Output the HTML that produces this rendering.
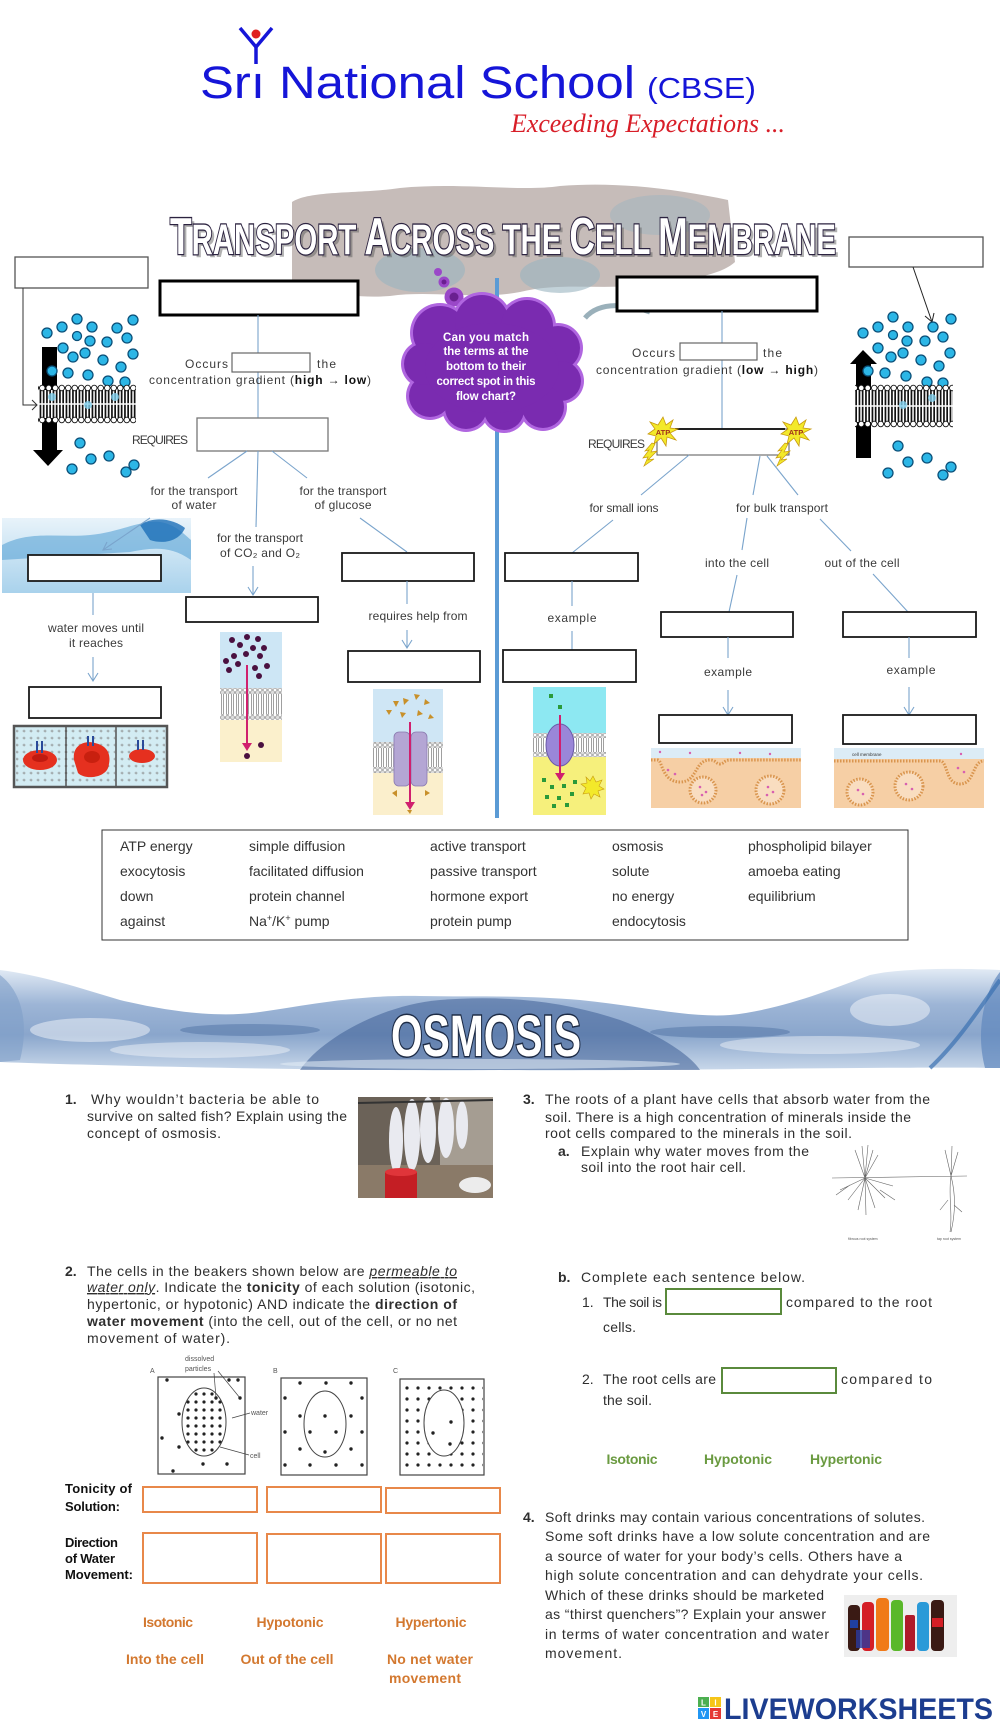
<!DOCTYPE html>
<html><head><meta charset="utf-8"><style>
html,body{margin:0;padding:0;background:#fff;}
svg{display:block;}
text{font-family:"Liberation Sans",sans-serif;}
.f{font-size:12px;fill:#3a3a3a;}
.q{font-size:14px;fill:#2e2e2e;}
.w{font-size:14px;fill:#333;}
.ln{stroke:#7aa4cc;stroke-width:1.1;fill:none;}
.bx{fill:#fff;stroke:#1a1a1a;stroke-width:1.8;}
.gb{fill:#fff;stroke:#666;stroke-width:1.2;}
.dot{fill:#2cb6e6;stroke:#0b4f78;stroke-width:1.3;}
.or{fill:none;stroke:#e8884a;stroke-width:2;}
.ot{font-size:14px;font-weight:bold;fill:#d3782f;}
.gt{font-size:14px;font-weight:bold;fill:#6a9a40;}
.bd{fill:#333;}
</style></head><body>
<svg width="1000" height="1728" viewBox="0 0 1000 1728" xmlns="http://www.w3.org/2000/svg">
<defs>
<pattern id="tails" width="6.5" height="4" patternUnits="userSpaceOnUse"><rect width="6.5" height="4" fill="#fff"/><rect x="0.6" width="1.7" height="4" fill="#111"/><rect x="3.8" width="1.7" height="4" fill="#111"/></pattern>
<pattern id="gtl" width="5" height="4" patternUnits="userSpaceOnUse"><rect width="5" height="4" fill="#fff"/><rect x="1" width="0.8" height="4" fill="#888"/><rect x="3.2" width="0.8" height="4" fill="#888"/></pattern>
<pattern id="hA" x="0" y="384" width="6.5" height="8" patternUnits="userSpaceOnUse"><circle cx="3.25" cy="4" r="2.8" fill="#fff" stroke="#111" stroke-width="0.9"/></pattern>
<pattern id="hB" x="0" y="416" width="6.5" height="8" patternUnits="userSpaceOnUse"><circle cx="3.25" cy="4" r="2.8" fill="#fff" stroke="#111" stroke-width="0.9"/></pattern>
<pattern id="hC" x="0" y="420" width="6.5" height="8" patternUnits="userSpaceOnUse"><circle cx="3.25" cy="4" r="2.8" fill="#fff" stroke="#111" stroke-width="0.9"/></pattern>
<pattern id="gh" width="5" height="5" patternUnits="userSpaceOnUse"><circle cx="2.5" cy="2.5" r="2" fill="#ddd" stroke="#777" stroke-width="0.6"/></pattern>
<pattern id="dC" x="402" y="1383" width="11" height="11" patternUnits="userSpaceOnUse"><circle cx="5" cy="5" r="1.6" fill="#222"/></pattern>
<pattern id="dA" x="184" y="1390" width="8" height="8" patternUnits="userSpaceOnUse"><circle cx="4" cy="4" r="1.6" fill="#222"/></pattern>
<pattern id="rbcd" width="7" height="7" patternUnits="userSpaceOnUse"><circle cx="3" cy="3" r="1" fill="none" stroke="#888" stroke-width="0.6"/></pattern>
<linearGradient id="wave" x1="0" y1="0" x2="0" y2="1">
<stop offset="0" stop-color="#e2ebf5"/><stop offset="0.35" stop-color="#9db5d6"/><stop offset="0.65" stop-color="#8aa6cc"/><stop offset="1" stop-color="#c9d8ea"/></linearGradient>
<linearGradient id="splash" x1="0" y1="0" x2="0" y2="1"><stop offset="0" stop-color="#e8f3fa"/><stop offset="1" stop-color="#a9d2ec"/></linearGradient>
</defs>

<!-- HEADER -->
<path d="M240,28 L256,47 L272,28" stroke="#1515d8" stroke-width="3.5" fill="none"/>
<line x1="256" y1="46" x2="256" y2="64" stroke="#1515d8" stroke-width="3.5"/>
<circle cx="256" cy="34" r="4.5" fill="#e02020"/>
<text x="200" y="98" font-size="45" fill="#1515d8" textLength="435" lengthAdjust="spacingAndGlyphs">Srı National School</text>
<text x="647" y="98" font-size="29" fill="#1515d8" textLength="109" lengthAdjust="spacingAndGlyphs">(CBSE)</text>
<text x="511" y="132" font-size="26" font-style="italic" fill="#d81e28" style="font-family:'Liberation Serif',serif" textLength="274" lengthAdjust="spacingAndGlyphs">Exceeding Expectations ...</text>

<!-- TITLE BLOB -->
<path d="M292,202 C310,190 360,194 400,188 C460,182 520,192 560,186 C620,181 680,190 728,200 L735,262 C720,276 680,282 640,285 C600,290 560,282 520,292 C480,300 430,290 390,296 C350,299 310,290 292,280 Z" fill="#a08f8a" opacity="0.6"/>
<ellipse cx="420" cy="270" rx="45" ry="22" fill="#9ab4c0" opacity="0.6"/>
<ellipse cx="560" cy="275" rx="40" ry="18" fill="#9ab4c0" opacity="0.6"/>
<ellipse cx="660" cy="215" rx="50" ry="20" fill="#9ab4c0" opacity="0.45"/>
<path d="M585,318 C600,300 630,305 650,312" stroke="#9ab0ba" stroke-width="5" fill="none"/>
<text x="173" y="257" font-size="52" font-weight="bold" fill="#555" opacity="0.45" textLength="666" lengthAdjust="spacingAndGlyphs">T<tspan font-size="43">RANSPORT </tspan>A<tspan font-size="43">CROSS THE </tspan>C<tspan font-size="43">ELL </tspan>M<tspan font-size="43">EMBRANE</tspan></text>
<text x="170" y="254" font-size="52" font-weight="bold" fill="#fff" stroke="#2c2340" stroke-width="2.6" paint-order="stroke" textLength="666" lengthAdjust="spacingAndGlyphs">T<tspan font-size="43">RANSPORT </tspan>A<tspan font-size="43">CROSS THE </tspan>C<tspan font-size="43">ELL </tspan>M<tspan font-size="43">EMBRANE</tspan></text>

<!-- CENTER LINE -->
<line x1="497" y1="278" x2="497" y2="818" stroke="#5b9bd5" stroke-width="4"/>

<!-- CLOUD -->
<circle cx="438" cy="272" r="4" fill="#9a48c8"/>
<circle cx="444" cy="282" r="5.5" fill="#9a48c8"/><circle cx="444" cy="282" r="2.5" fill="#6a2090"/>
<circle cx="454" cy="297" r="9.5" fill="#9a48c8"/><circle cx="454" cy="297" r="4.5" fill="#6a2090"/>
<g fill="#b066e0">
<circle cx="440" cy="333" r="30"/><circle cx="482" cy="322" r="30"/><circle cx="527" cy="326" r="29"/><circle cx="558" cy="348" r="25"/><circle cx="561" cy="381" r="23"/><circle cx="543" cy="407" r="24"/><circle cx="504" cy="410" r="23"/><circle cx="466" cy="408" r="24"/><circle cx="430" cy="396" r="24"/><circle cx="425" cy="364" r="24"/><ellipse cx="492" cy="368" rx="70" ry="48"/>
</g>
<g fill="#7a2bb0">
<circle cx="440" cy="333" r="27"/><circle cx="482" cy="322" r="27"/><circle cx="527" cy="326" r="26"/><circle cx="558" cy="348" r="22"/><circle cx="561" cy="381" r="20"/><circle cx="543" cy="407" r="21"/><circle cx="504" cy="410" r="20"/><circle cx="466" cy="408" r="21"/><circle cx="430" cy="396" r="21"/><circle cx="425" cy="364" r="21"/><ellipse cx="492" cy="368" rx="67" ry="45"/>
</g>
<g font-size="11.5" font-weight="bold" fill="#fff" text-anchor="middle">
<text x="486" y="341" textLength="86">Can you match</text>
<text x="486" y="355" textLength="85">the terms at the</text>
<text x="486" y="370" textLength="80">bottom to their</text>
<text x="486" y="385" textLength="99">correct spot in this</text>
<text x="486" y="400" textLength="60">flow chart?</text>
</g>

<!-- LEFT DIFFUSION IMAGE -->
<rect x="15" y="257" width="133" height="31" fill="#fff" stroke="#555" stroke-width="1.3"/>
<polyline points="23,288 23,405 37,405" fill="none" stroke="#333" stroke-width="1"/>
<polyline points="32,400 37,405 32,410" fill="none" stroke="#333" stroke-width="1"/>
<rect x="42" y="347" width="15" height="105" fill="#000"/>
<polygon points="33,450 63,450 48,466" fill="#000"/>
<g class="dot">
<circle cx="47" cy="333" r="5"/><circle cx="62" cy="327" r="5"/><circle cx="77" cy="319" r="5"/><circle cx="92" cy="327" r="5"/><circle cx="117" cy="328" r="5"/><circle cx="133" cy="320" r="5"/><circle cx="77" cy="336" r="4.5"/><circle cx="90" cy="341" r="5"/><circle cx="107" cy="342" r="5"/><circle cx="127" cy="338" r="5"/><circle cx="63" cy="348" r="5"/><circle cx="73" cy="357" r="5"/><circle cx="85" cy="353" r="5"/><circle cx="103" cy="360" r="5"/><circle cx="133" cy="354" r="5"/><circle cx="52" cy="371" r="5"/><circle cx="68" cy="373" r="5"/><circle cx="88" cy="375" r="5"/><circle cx="108" cy="381" r="5"/><circle cx="121" cy="367" r="5"/><circle cx="125" cy="382" r="5"/>
<circle cx="80" cy="443" r="5"/><circle cx="91" cy="459" r="5"/><circle cx="109" cy="456" r="5"/><circle cx="72" cy="469" r="5"/><circle cx="126" cy="472" r="5"/><circle cx="134" cy="465" r="5"/>
</g>
<rect x="38" y="390" width="98" height="28" fill="url(#tails)"/>
<line x1="38" y1="404" x2="136" y2="404" stroke="#fff" stroke-width="1.5"/>
<rect x="38" y="384" width="98" height="8" fill="url(#hA)"/>
<rect x="38" y="416" width="98" height="8" fill="url(#hB)"/>
<circle cx="52" cy="397" r="4" fill="#7fd0ee" opacity="0.8"/><circle cx="88" cy="405" r="4" fill="#7fd0ee" opacity="0.8"/><circle cx="115" cy="397" r="4" fill="#7fd0ee" opacity="0.8"/>

<!-- LEFT FLOW -->
<rect x="160" y="281" width="198" height="34" fill="#fff" stroke="#000" stroke-width="3"/>
<line class="ln" x1="258" y1="315" x2="258" y2="418"/>
<text class="f" x="185" y="368" font-size="14" textLength="43">Occurs</text>
<rect x="232" y="353" width="78" height="19" class="gb"/>
<text class="f" x="317" y="368" font-size="14" textLength="19">the</text>
<text class="f" x="149" y="384" font-size="13.5" textLength="222">concentration gradient (<tspan font-weight="bold" fill="#111">high → low</tspan>)</text>
<text class="f" x="132" y="444" font-size="13.5" textLength="56">REQUIRES</text>
<rect x="197" y="418" width="131" height="33" fill="#fff" stroke="#777" stroke-width="1.3"/>
<line class="ln" x1="247" y1="451" x2="208" y2="478"/>
<line class="ln" x1="258" y1="451" x2="256" y2="527"/>
<line class="ln" x1="272" y1="451" x2="307" y2="478"/>
<g class="f" text-anchor="middle">
<text x="194" y="495" textLength="87">for the transport</text>
<text x="194" y="509" textLength="45">of water</text>
<text x="343" y="495" textLength="87">for the transport</text>
<text x="343" y="509" textLength="57">of glucose</text>
<text x="260" y="542" textLength="86">for the transport</text>
<text x="260" y="557" textLength="80">of CO₂ and O₂</text>
<text x="96" y="632" textLength="96">water moves until</text>
<text x="96" y="647" textLength="54">it reaches</text>
<text x="418" y="620" textLength="99">requires help from</text>
</g>
<!-- water splash -->
<rect x="2" y="518" width="189" height="75" fill="url(#splash)"/>
<path d="M2,545 C30,530 60,538 90,535 C120,532 140,520 160,522 C175,524 185,535 191,540 L191,560 C170,545 150,548 130,552 L2,560 Z" fill="#5aa3d6" opacity="0.6"/>
<path d="M140,525 C155,515 175,520 185,528 C180,540 165,545 150,540 Z" fill="#1d6fb8" opacity="0.8"/>
<line class="ln" x1="150" y1="518" x2="103" y2="550"/>
<polyline class="ln" points="112,549 103,550 107,542"/>
<rect class="bx" x="28" y="555" width="133" height="26"/>
<line class="ln" x1="93" y1="593" x2="93" y2="615"/>
<line class="ln" x1="93" y1="657" x2="93" y2="681"/>
<polyline class="ln" points="88,673 93,681 98,673"/>
<rect class="bx" x="29" y="687" width="132" height="31"/>
<!-- RBC -->
<rect x="14" y="726" width="153" height="61" fill="#d3ecf3" stroke="#555" stroke-width="2.5"/>
<rect x="16" y="728" width="149" height="57" fill="url(#rbcd)"/>
<line x1="66" y1="727" x2="66" y2="786" stroke="#555" stroke-width="1.5"/>
<line x1="116" y1="727" x2="116" y2="786" stroke="#555" stroke-width="1.5"/>
<ellipse cx="40" cy="760" rx="17" ry="10" fill="#e5301f"/><ellipse cx="40" cy="758" rx="8" ry="4" fill="#c01a10"/>
<path d="M74,760 C72,745 85,740 95,743 C108,746 112,755 108,768 C104,778 85,780 78,773 Z" fill="#e5301f"/>
<ellipse cx="92" cy="757" rx="8" ry="6" fill="#c8200f"/>
<ellipse cx="142" cy="756" rx="13" ry="7" fill="#e5301f"/>
<g stroke="#2a4a9a" stroke-width="2"><line x1="37" y1="741" x2="37" y2="753"/><line x1="42" y1="741" x2="42" y2="753"/><line x1="88" y1="736" x2="88" y2="746"/><line x1="93" y1="736" x2="93" y2="746"/><line x1="138" y1="740" x2="138" y2="750"/><line x1="143" y1="740" x2="143" y2="750"/></g>
<!-- CO2 -->
<line class="ln" x1="253" y1="566" x2="253" y2="595"/>
<polyline class="ln" points="248,587 253,595 258,587"/>
<rect class="bx" x="186" y="597" width="132" height="25"/>
<rect x="220" y="632" width="62" height="56" fill="#cde6f5"/>
<rect x="220" y="720" width="62" height="42" fill="#fbf0cc"/>
<rect x="220" y="694" width="62" height="20" fill="url(#gtl)"/>
<rect x="220" y="688" width="62" height="6" fill="url(#gh)"/>
<rect x="220" y="714" width="62" height="6" fill="url(#gh)"/>
<g fill="#4a1040">
<circle cx="232" cy="640" r="3"/><circle cx="247" cy="637" r="3"/><circle cx="258" cy="639" r="3"/><circle cx="240" cy="645" r="3"/><circle cx="253" cy="648" r="3"/><circle cx="264" cy="648" r="3"/><circle cx="234" cy="656" r="3"/><circle cx="246" cy="654" r="3"/><circle cx="260" cy="656" r="3"/><circle cx="226" cy="661" r="3"/><circle cx="238" cy="664" r="3"/><circle cx="255" cy="668" r="3"/><circle cx="267" cy="666" r="3"/><circle cx="229" cy="670" r="3"/><circle cx="259" cy="676" r="3"/><circle cx="261" cy="745" r="3"/><circle cx="247" cy="756" r="3"/>
</g>
<line x1="247" y1="665" x2="247" y2="745" stroke="#d0206e" stroke-width="2"/>
<polygon points="242,743 252,743 247,751" fill="#d0206e"/>
<!-- glucose -->
<line class="ln" x1="360" y1="518" x2="407" y2="552"/>
<rect class="bx" x="342" y="553" width="132" height="28"/>
<line class="ln" x1="407" y1="581" x2="407" y2="604"/>
<line class="ln" x1="407" y1="630" x2="407" y2="648"/>
<polyline class="ln" points="402,640 407,648 412,640"/>
<rect class="bx" x="348" y="651" width="132" height="31"/>
<rect x="373" y="689" width="70" height="53" fill="#cfe6f5"/>
<rect x="373" y="748" width="70" height="19" fill="url(#gtl)"/>
<rect x="373" y="773" width="70" height="42" fill="#fbefcc"/>
<rect x="373" y="742" width="70" height="6" fill="url(#gh)"/>
<rect x="373" y="767" width="70" height="6" fill="url(#gh)"/>
<rect x="394" y="732" width="16" height="54" rx="5" fill="#b4a6d4" stroke="#8a7ab0" stroke-width="0.8"/>
<rect x="411" y="732" width="16" height="54" rx="5" fill="#b4a6d4" stroke="#8a7ab0" stroke-width="0.8"/>
<line x1="410" y1="722" x2="410" y2="805" stroke="#d0206e" stroke-width="2"/>
<polygon points="405,802 415,802 410,810" fill="#d0206e"/>
<g fill="#c8902a">
<polygon points="393,701 399,701 396,707"/><polygon points="403,698 409,700 404,705"/><polygon points="414,694 420,695 416,700"/><polygon points="425,699 430,703 424,705"/><polygon points="386,710 392,710 389,715"/><polygon points="400,712 406,713 402,718"/><polygon points="418,710 423,714 417,716"/><polygon points="430,714 434,718 428,719"/><polygon points="392,793 397,790 397,797"/><polygon points="425,790 430,793 425,796"/><polygon points="407,810 412,810 410,814"/>
</g>

<!-- RIGHT FLOW -->
<rect x="849" y="237" width="134" height="30" fill="#fff" stroke="#555" stroke-width="1.3"/>
<line x1="913" y1="267" x2="932" y2="322" stroke="#222" stroke-width="1"/>
<polyline points="934,313 932,322 925,316" fill="none" stroke="#222" stroke-width="1"/>
<rect x="856" y="362" width="15" height="96" fill="#000"/>
<polygon points="850,364 877,364 863,350" fill="#000"/>
<g class="dot">
<circle cx="863" cy="333" r="5"/><circle cx="878" cy="327" r="5"/><circle cx="893" cy="317" r="5"/><circle cx="908" cy="327" r="5"/><circle cx="933" cy="327" r="5"/><circle cx="951" cy="319" r="5"/><circle cx="893" cy="335" r="4.5"/><circle cx="907" cy="341" r="5"/><circle cx="925" cy="341" r="5"/><circle cx="943" cy="337" r="5"/><circle cx="878" cy="348" r="5"/><circle cx="891" cy="357" r="5"/><circle cx="903" cy="353" r="5"/><circle cx="921" cy="360" r="5"/><circle cx="950" cy="353" r="5"/><circle cx="868" cy="371" r="5"/><circle cx="885" cy="373" r="5"/><circle cx="906" cy="376" r="5"/><circle cx="927" cy="382" r="5"/><circle cx="939" cy="366" r="5"/><circle cx="943" cy="383" r="5"/>
<circle cx="898" cy="446" r="5"/><circle cx="908" cy="462" r="5"/><circle cx="927" cy="458" r="5"/><circle cx="888" cy="473" r="5"/><circle cx="943" cy="475" r="5"/><circle cx="951" cy="467" r="5"/>
</g>
<rect x="855" y="390" width="98" height="32" fill="url(#tails)"/>
<line x1="855" y1="406" x2="953" y2="406" stroke="#fff" stroke-width="1.5"/>
<rect x="855" y="384" width="98" height="8" fill="url(#hA)"/>
<rect x="855" y="420" width="98" height="8" fill="url(#hC)"/>
<circle cx="903" cy="405" r="4" fill="#7fd0ee" opacity="0.8"/><circle cx="932" cy="398" r="4" fill="#7fd0ee" opacity="0.8"/>

<rect x="617" y="277" width="200" height="34" fill="#fff" stroke="#000" stroke-width="3"/>
<line class="ln" x1="722" y1="311" x2="722" y2="429"/>
<text class="f" x="632" y="357" font-size="14" textLength="43">Occurs</text>
<rect x="680" y="343" width="77" height="17" class="gb"/>
<text class="f" x="763" y="357" font-size="14" textLength="19">the</text>
<text class="f" x="596" y="374" font-size="13.5" textLength="222">concentration gradient (<tspan font-weight="bold" fill="#111">low → high</tspan>)</text>
<text class="f" x="588" y="448" font-size="13.5" textLength="57">REQUIRES</text>
<rect x="657" y="429" width="132" height="26" fill="#fff" stroke="#555" stroke-width="1"/>
<line x1="675" y1="429" x2="785" y2="429" stroke="#222" stroke-width="2"/>
<g>
<polygon points="663,417 666,425 673,420 670,428 678,429 670,433 676,440 667,437 666,446 661,438 654,444 656,436 648,434 655,429 650,422 658,425" fill="#f3e92a" stroke="#c89a10" stroke-width="0.8"/>
<text x="663" y="435" font-size="7.5" font-weight="bold" fill="#a0301a" text-anchor="middle">ATP</text>
<polygon points="796,417 799,425 806,420 803,428 811,429 803,433 809,440 800,437 799,446 794,438 787,444 789,436 781,434 788,429 783,422 791,425" fill="#f3e92a" stroke="#c89a10" stroke-width="0.8"/>
<text x="796" y="435" font-size="7.5" font-weight="bold" fill="#a0301a" text-anchor="middle">ATP</text>
<polygon points="655,444 651,452 657,451 648,460 654,459 644,466 648,457 643,458 649,450 645,451 652,443" fill="#f3e92a" stroke="#c89a10" stroke-width="0.7"/>
<polygon points="788,444 784,452 790,451 781,460 787,459 777,466 781,457 776,458 782,450 778,451 785,443" fill="#f3e92a" stroke="#c89a10" stroke-width="0.7"/>
</g>
<line class="ln" x1="689" y1="455" x2="641" y2="495"/>
<line class="ln" x1="760" y1="456" x2="753" y2="495"/>
<line class="ln" x1="767" y1="456" x2="798" y2="495"/>
<g class="f" text-anchor="middle">
<text x="624" y="512" textLength="69">for small ions</text>
<text x="782" y="512" textLength="92">for bulk transport</text>
<text x="737" y="567" textLength="64">into the cell</text>
<text x="862" y="567" textLength="75">out of the cell</text>
<text x="572" y="622" textLength="49">example</text>
<text x="728" y="676" textLength="48">example</text>
<text x="911" y="674" textLength="49">example</text>
</g>
<line class="ln" x1="613" y1="520" x2="572" y2="553"/>
<rect class="bx" x="505" y="553" width="133" height="28"/>
<line class="ln" x1="572" y1="581" x2="572" y2="606"/>
<line class="ln" x1="572" y1="631" x2="572" y2="650"/>
<rect class="bx" x="503" y="650" width="133" height="32"/>
<!-- Na/K pump -->
<rect x="533" y="687" width="73" height="46" fill="#8de8f2"/>
<rect x="533" y="757" width="73" height="58" fill="#f6f07c"/>
<rect x="533" y="738" width="73" height="14" fill="url(#gtl)"/>
<rect x="533" y="733" width="73" height="5" fill="url(#gh)"/>
<rect x="533" y="752" width="73" height="5" fill="url(#gh)"/>
<ellipse cx="560" cy="745" rx="14" ry="21" fill="#9a86d8" stroke="#6a5aa8" stroke-width="1"/>
<line x1="560" y1="715" x2="560" y2="775" stroke="#d0206e" stroke-width="2"/>
<polygon points="555,773 565,773 560,781" fill="#d0206e"/>
<g fill="#2a9a3a"><rect x="549" y="694" width="4" height="4"/><rect x="558" y="705" width="4" height="4"/><rect x="542" y="778" width="4" height="4"/><rect x="550" y="785" width="4" height="4"/><rect x="562" y="784" width="4" height="4"/><rect x="573" y="780" width="4" height="4"/><rect x="545" y="795" width="4" height="4"/><rect x="557" y="796" width="4" height="4"/><rect x="570" y="792" width="4" height="4"/><rect x="552" y="804" width="4" height="4"/><rect x="565" y="803" width="4" height="4"/></g>
<polygon points="593,776 596,782 602,780 599,786 604,789 598,791 600,797 594,794 591,799 589,793 583,794 586,788 581,784 587,783 586,777 590,781" fill="#f3e92a" stroke="#c89a10" stroke-width="0.6"/>
<!-- into the cell -->
<line class="ln" x1="747" y1="518" x2="742" y2="550"/>
<line class="ln" x1="737" y1="575" x2="729" y2="612"/>
<rect class="bx" x="661" y="612" width="132" height="25"/>
<line class="ln" x1="728" y1="637" x2="728" y2="658"/>
<line class="ln" x1="728" y1="690" x2="728" y2="715"/>
<polyline class="ln" points="723,707 728,715 733,707"/>
<rect class="bx" x="659" y="715" width="133" height="28"/>
<rect x="651" y="748" width="150" height="60" fill="#f6cfa5"/>
<rect x="651" y="748" width="150" height="10" fill="#dcecf6"/>
<path d="M651,760 L658,760 C662,760 662,782 680,782 C698,782 694,760 710,760 C716,760 716,764 720,764 C724,764 724,760 730,760 L801,760" fill="none" stroke="#d9954e" stroke-width="3" stroke-dasharray="1.5,1.5"/>
<circle cx="703" cy="790" r="13" fill="#f9ddc0" stroke="#d9954e" stroke-width="3" stroke-dasharray="1.5,1.5"/>
<circle cx="770" cy="790" r="14" fill="#f9ddc0" stroke="#d9954e" stroke-width="3" stroke-dasharray="1.5,1.5"/>
<g fill="#d860b0"><circle cx="700" cy="787" r="1.3"/><circle cx="706" cy="792" r="1.3"/><circle cx="702" cy="795" r="1.3"/><circle cx="768" cy="787" r="1.3"/><circle cx="773" cy="792" r="1.3"/><circle cx="767" cy="795" r="1.3"/><circle cx="668" cy="770" r="1.3"/><circle cx="675" cy="774" r="1.3"/><circle cx="660" cy="752" r="1.2"/><circle cx="690" cy="753" r="1.2"/><circle cx="740" cy="753" r="1.2"/><circle cx="770" cy="754" r="1.2"/></g>
<!-- out of the cell -->
<line class="ln" x1="820" y1="519" x2="851" y2="551"/>
<line class="ln" x1="873" y1="574" x2="908" y2="612"/>
<rect class="bx" x="843" y="612" width="133" height="25"/>
<line class="ln" x1="909" y1="637" x2="909" y2="658"/>
<line class="ln" x1="909" y1="687" x2="909" y2="715"/>
<polyline class="ln" points="904,707 909,715 914,707"/>
<rect class="bx" x="843" y="715" width="133" height="29"/>
<rect x="834" y="748" width="150" height="60" fill="#f6cfa5"/>
<rect x="834" y="748" width="150" height="11" fill="#dcecf6"/>
<path d="M834,761 L940,761 C948,761 945,784 960,784 C975,784 972,761 984,761" fill="none" stroke="#d9954e" stroke-width="3" stroke-dasharray="1.5,1.5"/>
<circle cx="860" cy="792" r="13" fill="#f9ddc0" stroke="#d9954e" stroke-width="3" stroke-dasharray="1.5,1.5"/>
<circle cx="909" cy="786" r="14" fill="#f9ddc0" stroke="#d9954e" stroke-width="3" stroke-dasharray="1.5,1.5"/>
<text x="852" y="756" font-size="4.5" fill="#333">cell membrane</text>
<g fill="#d860b0"><circle cx="858" cy="790" r="1.3"/><circle cx="863" cy="794" r="1.3"/><circle cx="906" cy="784" r="1.3"/><circle cx="912" cy="789" r="1.3"/><circle cx="958" cy="768" r="1.3"/><circle cx="964" cy="772" r="1.3"/><circle cx="961" cy="754" r="1.2"/></g>

<!-- WORD BANK -->
<rect x="102" y="830" width="806" height="110" fill="#fff" stroke="#333" stroke-width="1"/>
<g class="w">
<text x="120" y="851">ATP energy</text><text x="249" y="851">simple diffusion</text><text x="430" y="851">active transport</text><text x="612" y="851">osmosis</text><text x="748" y="851">phospholipid bilayer</text>
<text x="120" y="876">exocytosis</text><text x="249" y="876">facilitated diffusion</text><text x="430" y="876">passive transport</text><text x="612" y="876">solute</text><text x="748" y="876">amoeba eating</text>
<text x="120" y="901">down</text><text x="249" y="901">protein channel</text><text x="430" y="901">hormone export</text><text x="612" y="901">no energy</text><text x="748" y="901">equilibrium</text>
<text x="120" y="926">against</text><text x="249" y="926">Na<tspan font-size="9" dy="-5">+</tspan><tspan dy="5">/K</tspan><tspan font-size="9" dy="-5">+</tspan><tspan dy="5"> pump</tspan></text><text x="430" y="926">protein pump</text><text x="612" y="926">endocytosis</text>
</g>

<!-- OSMOSIS BANNER -->
<path d="M0,970 C40,975 80,988 120,1000 C170,1012 220,1018 260,1012 C320,1003 360,995 420,996 C470,997 520,995 580,1000 C640,1006 690,1018 730,1015 C780,1010 830,990 870,975 C900,968 960,968 1000,970 L1000,1068 C900,1066 600,1072 500,1070 C400,1072 100,1066 0,1062 Z" fill="url(#wave)"/>
<path d="M300,1070 C320,1040 380,1005 440,1000 C500,995 560,1000 620,1020 C660,1035 690,1055 700,1070 Z" fill="#3e5f95" opacity="0.55"/>
<path d="M0,975 C20,990 30,1020 20,1060 L0,1062 Z" fill="#7f9fc8" opacity="0.6"/>
<path d="M1000,972 C985,990 975,1030 985,1068 L1000,1068 Z" fill="#5f88bd" opacity="0.7"/>
<path d="M930,1068 C960,1040 985,1000 1000,980" stroke="#3a70b0" stroke-width="4" fill="none" opacity="0.7"/>
<ellipse cx="90" cy="1030" rx="60" ry="12" fill="#fff" opacity="0.45"/>
<ellipse cx="200" cy="1050" rx="90" ry="8" fill="#fff" opacity="0.4"/>
<ellipse cx="820" cy="1045" rx="100" ry="9" fill="#fff" opacity="0.4"/>
<ellipse cx="890" cy="1010" rx="40" ry="16" fill="#fff" opacity="0.45"/>
<ellipse cx="250" cy="1030" rx="70" ry="6" fill="#4a6da0" opacity="0.45"/>
<ellipse cx="720" cy="1032" rx="70" ry="6" fill="#4a6da0" opacity="0.45"/>
<ellipse cx="480" cy="1064" rx="200" ry="5" fill="#e4edf6" opacity="0.55"/>
<text x="391" y="1056" font-size="58" font-weight="bold" fill="#fff" stroke="#1d2b45" stroke-width="3" paint-order="stroke" textLength="190" lengthAdjust="spacingAndGlyphs">OSMOSIS</text>

<!-- Q1 -->
<text class="q" x="65" y="1104" font-weight="bold" font-size="13">1.</text>
<text class="q" x="91" y="1104" textLength="228">Why wouldn’t bacteria be able to</text>
<text class="q" x="87" y="1121" textLength="260">survive on salted fish? Explain using the</text>
<text class="q" x="87" y="1138" textLength="134">concept of osmosis.</text>
<rect x="358" y="1097" width="135" height="101" fill="#6b6258"/>
<rect x="440" y="1097" width="53" height="101" fill="#a59d92"/>
<rect x="358" y="1165" width="135" height="33" fill="#8a7a68"/>
<g fill="#e9eaf0"><ellipse cx="396" cy="1140" rx="7" ry="33"/><ellipse cx="412" cy="1135" rx="8" ry="36"/><ellipse cx="428" cy="1130" rx="8" ry="33"/><ellipse cx="446" cy="1128" rx="8" ry="30"/><ellipse cx="462" cy="1125" rx="6" ry="24"/></g>
<rect x="385" y="1172" width="32" height="26" fill="#c41e24"/><ellipse cx="401" cy="1172" rx="16" ry="4" fill="#e0353a"/>
<ellipse cx="475" cy="1185" rx="16" ry="8" fill="#ececec"/>
<line x1="358" y1="1103" x2="493" y2="1100" stroke="#333" stroke-width="2"/>

<!-- Q2 -->
<text class="q" x="65" y="1276" font-weight="bold" font-size="13">2.</text>
<text class="q" x="87" y="1276" textLength="370">The cells in the beakers shown below are <tspan font-style="italic" text-decoration="underline">permeable to</tspan></text>
<text class="q" x="87" y="1292" textLength="388"><tspan font-style="italic" text-decoration="underline">water only</tspan>. Indicate the <tspan font-weight="bold">tonicity</tspan> of each solution (isotonic,</text>
<text class="q" x="87" y="1309" textLength="370">hypertonic, or hypotonic) AND indicate the <tspan font-weight="bold">direction of</tspan></text>
<text class="q" x="87" y="1326" textLength="370"><tspan font-weight="bold">water movement</tspan> (into the cell, out of the cell, or no net</text>
<text class="q" x="87" y="1343" textLength="143">movement of water).</text>
<!-- beakers -->
<g font-size="7" fill="#555">
<text x="150" y="1373">A</text><text x="273" y="1373">B</text><text x="393" y="1373">C</text>
<text x="185" y="1361">dissolved</text><text x="185" y="1371">particles</text>
<text x="251" y="1415">water</text><text x="250" y="1458">cell</text>
</g>
<line x1="214" y1="1373" x2="216" y2="1398" stroke="#444" stroke-width="0.7"/>
<line x1="218" y1="1371" x2="240" y2="1398" stroke="#444" stroke-width="0.7"/>
<line x1="232" y1="1418" x2="250" y2="1413" stroke="#444" stroke-width="0.7"/>
<line x1="220" y1="1447" x2="249" y2="1455" stroke="#444" stroke-width="0.7"/>
<g fill="none" stroke="#444" stroke-width="1.2">
<rect x="158" y="1377" width="87" height="97"/>
<rect x="281" y="1378" width="86" height="97"/>
<rect x="400" y="1379" width="84" height="96"/>
</g>
<ellipse cx="204" cy="1422" rx="22" ry="34" fill="url(#dA)" stroke="#444" stroke-width="1"/>
<g fill="#222"><circle cx="167" cy="1380" r="1.7"/><circle cx="229" cy="1380" r="1.7"/><circle cx="238" cy="1380" r="1.7"/><circle cx="179" cy="1414" r="1.7"/><circle cx="162" cy="1438" r="1.7"/><circle cx="179" cy="1447" r="1.7"/><circle cx="203" cy="1464" r="1.7"/><circle cx="227" cy="1464" r="1.7"/><circle cx="173" cy="1471" r="1.7"/><circle cx="216" cy="1398" r="1.7"/><circle cx="240" cy="1398" r="1.7"/></g>
<ellipse cx="325" cy="1424" rx="21" ry="33" fill="none" stroke="#444" stroke-width="1"/>
<g fill="#222"><circle cx="300" cy="1383" r="1.7"/><circle cx="326" cy="1383" r="1.7"/><circle cx="351" cy="1383" r="1.7"/><circle cx="285" cy="1398" r="1.7"/><circle cx="362" cy="1398" r="1.7"/><circle cx="300" cy="1416" r="1.7"/><circle cx="325" cy="1416" r="1.7"/><circle cx="351" cy="1416" r="1.7"/><circle cx="285" cy="1432" r="1.7"/><circle cx="310" cy="1432" r="1.7"/><circle cx="336" cy="1432" r="1.7"/><circle cx="362" cy="1432" r="1.7"/><circle cx="300" cy="1449" r="1.7"/><circle cx="325" cy="1452" r="1.7"/><circle cx="351" cy="1449" r="1.7"/><circle cx="285" cy="1465" r="1.7"/><circle cx="310" cy="1465" r="1.7"/><circle cx="336" cy="1465" r="1.7"/><circle cx="362" cy="1465" r="1.7"/></g>
<rect x="401" y="1380" width="82" height="94" fill="url(#dC)"/>
<ellipse cx="444" cy="1423" rx="20" ry="33" fill="#fff" stroke="#444" stroke-width="1"/>
<g fill="#222"><circle cx="433" cy="1433" r="1.7"/><circle cx="451" cy="1422" r="1.7"/><circle cx="450" cy="1444" r="1.7"/></g>
<!-- tonicity -->
<g font-size="13" font-weight="bold" fill="#111">
<text x="65" y="1493" textLength="67">Tonicity of</text>
<text x="65" y="1511" textLength="55">Solution:</text>
<text x="65" y="1547" textLength="53">Direction</text>
<text x="65" y="1563" textLength="50">of Water</text>
<text x="65" y="1579" textLength="68">Movement:</text>
</g>
<rect class="or" x="143" y="1487" width="114" height="25"/>
<rect class="or" x="267" y="1487" width="114" height="25"/>
<rect class="or" x="386" y="1488" width="114" height="25"/>
<rect class="or" x="143" y="1533" width="114" height="50"/>
<rect class="or" x="267" y="1534" width="114" height="49"/>
<rect class="or" x="386" y="1534" width="114" height="49"/>
<g class="ot" text-anchor="middle">
<text x="168" y="1627" textLength="50">Isotonic</text>
<text x="290" y="1627" textLength="67">Hypotonic</text>
<text x="431" y="1627" textLength="71">Hypertonic</text>
<text x="165" y="1664" textLength="78">Into the cell</text>
<text x="287" y="1664" textLength="93">Out of the cell</text>
<text x="430" y="1664" textLength="86">No net water</text>
<text x="425" y="1683" textLength="72">movement</text>
</g>

<!-- Q3 -->
<text class="q" x="523" y="1104" font-weight="bold" font-size="13">3.</text>
<text class="q" x="545" y="1104" textLength="385">The roots of a plant have cells that absorb water from the</text>
<text class="q" x="545" y="1122" textLength="366">soil. There is a high concentration of minerals inside the</text>
<text class="q" x="545" y="1138" textLength="307">root cells compared to the minerals in the soil.</text>
<text class="q" x="558" y="1156" font-weight="bold" font-size="13">a.</text>
<text class="q" x="581" y="1156" textLength="228">Explain why water moves from the</text>
<text class="q" x="581" y="1172" textLength="165">soil into the root hair cell.</text>
<g stroke="#666" stroke-width="0.6" fill="none">
<path d="M832,1178 L967,1176"/>
<path d="M865,1178 L855,1150 M865,1178 L862,1146 M865,1178 L868,1145 M865,1178 L873,1150 M865,1178 L878,1155"/>
<path d="M865,1178 L840,1190 M865,1178 L848,1200 M865,1178 L858,1210 M865,1178 L866,1215 M865,1178 L875,1208 M865,1178 L885,1198 M865,1178 L893,1186 M850,1185 L836,1195 M880,1190 L895,1200"/>
<path d="M951,1176 C948,1195 953,1215 950,1232 M951,1176 C956,1195 955,1215 951,1232 M951,1176 L945,1150 M951,1176 L952,1146 M951,1176 L958,1152 M948,1200 L940,1210 M954,1205 L962,1212"/>
</g>
<text x="848" y="1240" font-size="3.5" fill="#555">fibrous root system</text><text x="937" y="1240" font-size="3.5" fill="#555">tap root system</text>
<text class="q" x="558" y="1282" font-weight="bold" font-size="13">b.</text>
<text class="q" x="581" y="1282" textLength="224">Complete each sentence below.</text>
<text class="q" x="582" y="1307">1.</text>
<text class="q" x="603" y="1307" textLength="59">The soil is</text>
<rect x="666" y="1289" width="115" height="25" fill="none" stroke="#5a8a3c" stroke-width="2"/>
<text class="q" x="786" y="1307" textLength="146">compared to the root</text>
<text class="q" x="603" y="1332" textLength="33">cells.</text>
<text class="q" x="582" y="1384">2.</text>
<text class="q" x="603" y="1384" textLength="113">The root cells are</text>
<rect x="722" y="1368" width="114" height="25" fill="none" stroke="#5a8a3c" stroke-width="2"/>
<text class="q" x="841" y="1384" textLength="91">compared to</text>
<text class="q" x="603" y="1405" textLength="49">the soil.</text>
<g class="gt" text-anchor="middle">
<text x="632" y="1464" textLength="51">Isotonic</text>
<text x="738" y="1464" textLength="68">Hypotonic</text>
<text x="846" y="1464" textLength="72">Hypertonic</text>
</g>

<!-- Q4 -->
<text class="q" x="523" y="1522" font-weight="bold" font-size="13">4.</text>
<text class="q" x="545" y="1522" textLength="380">Soft drinks may contain various concentrations of solutes.</text>
<text class="q" x="545" y="1541" textLength="385">Some soft drinks have a low solute concentration and are</text>
<text class="q" x="545" y="1561" textLength="357">a source of water for your body’s cells. Others have a</text>
<text class="q" x="545" y="1580" textLength="378">high solute concentration and can dehydrate your cells.</text>
<text class="q" x="545" y="1600" textLength="279">Which of these drinks should be marketed</text>
<text class="q" x="545" y="1619" textLength="281">as “thirst quenchers”? Explain your answer</text>
<text class="q" x="545" y="1639" textLength="284">in terms of water concentration and water</text>
<text class="q" x="545" y="1658" textLength="77">movement.</text>
<rect x="844" y="1595" width="113" height="62" fill="#eeeeee"/>
<g>
<rect x="848" y="1605" width="12" height="46" rx="4" fill="#3a1a14"/><rect x="850" y="1620" width="8" height="8" fill="#2040a0"/>
<rect x="862" y="1602" width="12" height="49" rx="4" fill="#d41e26"/>
<rect x="876" y="1598" width="13" height="53" rx="4" fill="#f07a18"/>
<rect x="891" y="1600" width="12" height="51" rx="4" fill="#5ab82a"/>
<rect x="905" y="1615" width="10" height="36" rx="2" fill="#b01a2a"/>
<rect x="917" y="1602" width="12" height="49" rx="4" fill="#2a9ad8"/>
<rect x="931" y="1600" width="13" height="51" rx="4" fill="#3a1a14"/><rect x="932" y="1618" width="11" height="9" fill="#d41e26"/>
<rect x="856" y="1630" width="14" height="18" fill="#2a3aa0" opacity="0.8"/>
</g>

<!-- LIVEWORKSHEETS -->
<rect x="698" y="1697" width="11" height="10" fill="#4caf50"/><text x="703.5" y="1705.5" font-size="8" font-weight="bold" fill="#fff" text-anchor="middle">L</text>
<rect x="710" y="1697" width="11" height="10" fill="#f5c518"/><text x="715.5" y="1705.5" font-size="8" font-weight="bold" fill="#fff" text-anchor="middle">I</text>
<rect x="698" y="1708" width="11" height="11" fill="#2196f3"/><text x="703.5" y="1717" font-size="8" font-weight="bold" fill="#fff" text-anchor="middle">V</text>
<rect x="710" y="1708" width="11" height="11" fill="#e53935"/><text x="715.5" y="1717" font-size="8" font-weight="bold" fill="#fff" text-anchor="middle">E</text>
<text x="724" y="1719" font-size="30" font-weight="bold" fill="#1c3d8f" textLength="269" lengthAdjust="spacingAndGlyphs">LIVEWORKSHEETS</text>
</svg>
</body></html>
